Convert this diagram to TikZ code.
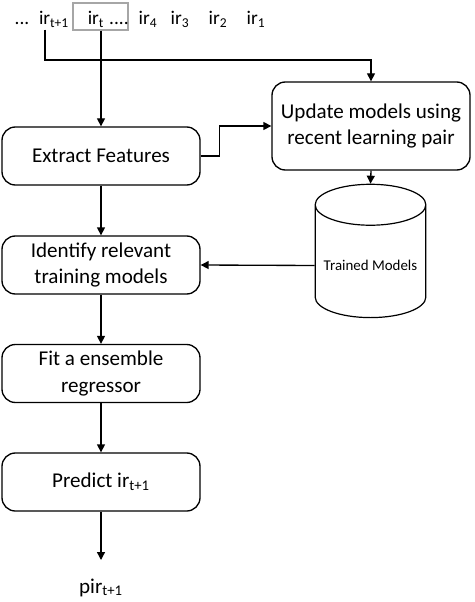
\documentclass[tikz,border=0pt]{standalone}
\usepackage{fontspec}
\setmainfont{Carlito}
\usetikzlibrary{arrows.meta}
\usetikzlibrary{shapes.geometric}

\tikzset{
  stepbox/.style={draw, rounded corners=10pt, line width=1pt, align=center,
    minimum width=148.5pt, minimum height=43.5pt, font=\fontsize{15.8}{20}\selectfont},
  seqtxt/.style={anchor=base, inner sep=1pt, font=\fontsize{14.5}{16}\selectfont},
  flow/.style={-{Triangle[width=6pt,length=6pt]}, line width=1pt}
}

\begin{document}
\begin{tikzpicture}[x=0.75pt, y=-0.75pt]
\useasboundingbox (0,0) rectangle (474,602);

% input sequence
\node [seqtxt] (dotsl) at (22,25) {...};
\node [seqtxt] (irtp) at (54,25) {ir\textsubscript{t+1}};
\node [draw=black!35, line width=0.8pt, minimum width=41.25pt, minimum height=20.25pt, inner sep=0pt] (irt) at (100.5,16.5) {};
\node [seqtxt] (irtt) at (96,25) {ir\textsubscript{t}};
\node [seqtxt] (dotsm) at (119,25) {....};
\node [seqtxt] (ir4) at (148,25) {ir\textsubscript{4}};
\node [seqtxt] (ir3) at (180,25) {ir\textsubscript{3}};
\node [seqtxt] (ir2) at (218,25) {ir\textsubscript{2}};
\node [seqtxt] (ir1) at (256,25) {ir\textsubscript{1}};

% main steps
\node [stepbox] (ext) at (101,156) {Extract Features};
\node [stepbox, minimum height=66pt] (upd) at (371,126) {Update models using\\recent learning pair};
\node [stepbox] (idf) at (101,265) {Identify relevant\\training models};
\node [stepbox] (fit) at (101,373.5) {Fit a ensemble\\regressor};
\node [stepbox] (pre) at (101,482) {Predict ir\textsubscript{t+1}};
\node [cylinder, draw, line width=0.9pt, shape border rotate=90, aspect=0.4,
  minimum width=83pt, minimum height=100pt, font=\fontsize{11.2}{13}\selectfont] (tm) at (370.5,265.5) {Trained Models};
\node [anchor=base, font=\fontsize{15.8}{18}\selectfont] (pir) at (101,593) {pir\textsubscript{t+1}};

\coordinate (jl) at (45,60);
\coordinate (cut) at (101,560);

\draw[flow] (irtp.south -| jl) -- (jl) -| (upd.north);
\draw[flow] (irt.south -| ext) -- (ext.north);
\draw[flow] (ext.east) -- ++(19,0) |- (upd.west);
\draw[flow] (upd.south) -- (tm.north);
\draw[flow] (tm.west) -- (idf.east);
\draw[flow] (ext) -- (idf);
\draw[flow] (idf) -- (fit);
\draw[flow] (fit) -- (pre);
\draw[flow] (pre.south) -- (cut);
\end{tikzpicture}
\end{document}
